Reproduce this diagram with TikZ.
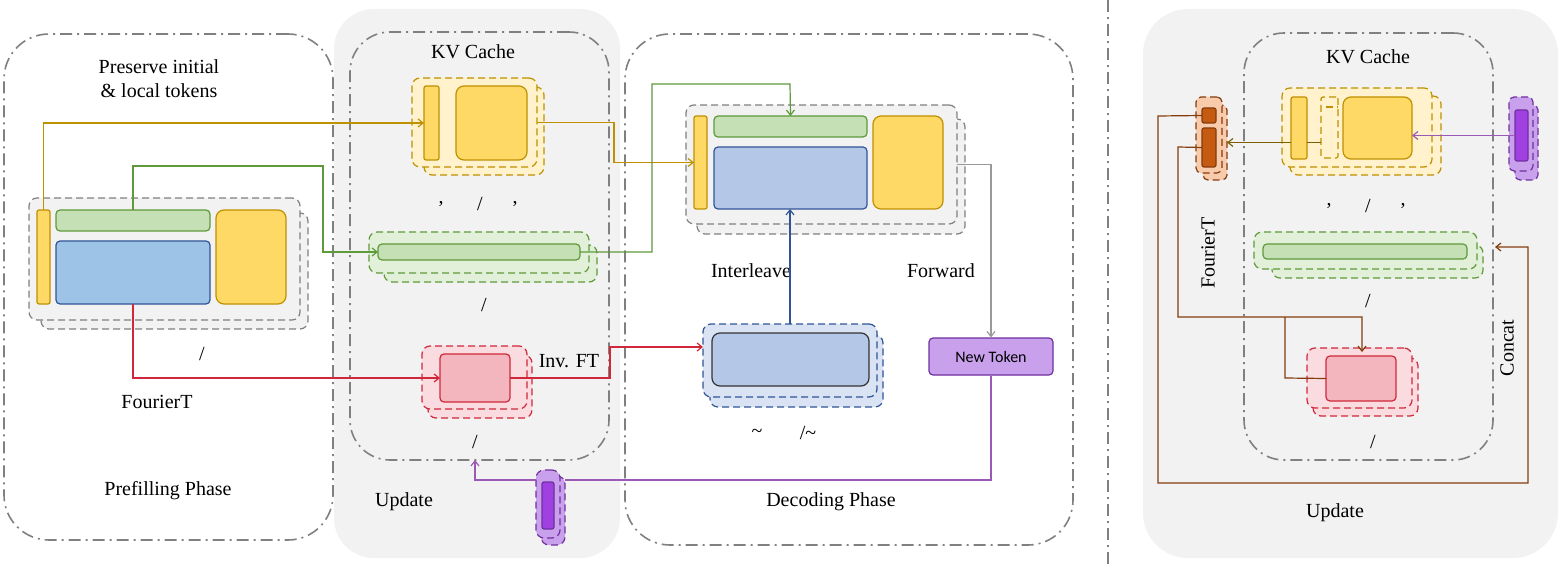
\documentclass[tikz,border=0pt]{standalone}
\usepackage{fontspec}
\setmainfont{Liberation Serif}
\newfontfamily\ntfont{Carlito}
\usetikzlibrary{calc,arrows.meta}
\definecolor{yF}{HTML}{FFD966}\definecolor{yB}{HTML}{BF9000}\definecolor{yG}{HTML}{FFF2CC}
\definecolor{gF}{HTML}{C5E0B4}\definecolor{gB}{HTML}{5E9A3A}\definecolor{gG}{HTML}{E2F0D9}
\definecolor{bF}{HTML}{9DC3E6}\definecolor{bB}{HTML}{2F5597}\definecolor{bD}{HTML}{B4C7E7}\definecolor{bG}{HTML}{DAE3F3}
\definecolor{rF}{HTML}{F4B6BE}\definecolor{rB}{HTML}{D0283A}\definecolor{rG}{HTML}{FADBDF}
\definecolor{pF}{HTML}{A040E0}\definecolor{pB}{HTML}{7030A0}\definecolor{pG}{HTML}{C9A0EC}\definecolor{pL}{HTML}{9B59B6}
\definecolor{oF}{HTML}{C55A11}\definecolor{oB}{HTML}{843C0C}\definecolor{oG}{HTML}{F8CBAD}
\definecolor{olv}{HTML}{7F6000}\definecolor{gry}{HTML}{808080}\definecolor{bgG}{HTML}{F2F2F2}
\newcommand\R[6]{\pgfmathsetmacro\rw{#5-#3}\pgfmathsetmacro\rh{#6-#4}%
  \node[#1,anchor=north west,minimum width=\rw pt,minimum height=\rh pt,inner sep=0pt,outer sep=0pt] (#2) at (#3,#4) {};}
\begin{document}
\begin{tikzpicture}[x=1pt,y=-1pt,
  dd/.style={draw=gry,line width=1.6pt,dash pattern=on 12pt off 5pt on 2pt off 5pt,rounded corners=#1},
  dd/.default=40pt,
  grp/.style 2 args={draw=#1,fill=#2,line width=1.2pt,dash pattern=on 7pt off 4pt,rounded corners=8pt,rectangle},
  blk/.style 2 args={draw=#1,fill=#2,line width=1.2pt,rounded corners=4pt,rectangle},
  ln/.style={line width=1.2pt,draw=#1,-{Straight Barb[length=5pt,width=8pt]}},
  pl/.style={line width=1.2pt,draw=#1},
  lab/.style={font=\fontsize{20}{22}\selectfont,inner sep=0pt},
  nt/.style={font=\ntfont\fontsize{16}{18}\selectfont}]
\useasboundingbox (0,0) rectangle (1561,564);
% backgrounds
\R{fill=bgG,rounded corners=40pt}{upbg}{334}{9}{620}{558}
\R{fill=bgG,rounded corners=45pt}{upbg2}{1143}{9}{1558}{558}
\R{dd=45pt}{prefill}{4}{34}{333}{540}
\R{dd=40pt}{kvin}{350}{32}{609}{460}
\R{dd=45pt}{decode}{625}{34}{1073}{545}
\R{dd=40pt}{kvin2}{1244}{33}{1493}{460}
\draw[gry,line width=1.6pt,dash pattern=on 12pt off 5pt on 2pt off 5pt] (1108,0) coordinate (dv1) -- (1108,564) coordinate (dv2);
% labels
\node[lab,align=center] (tpre) at (159,79) {Preserve initial\\[2pt]\& local tokens};
\node[lab] (tpf) at (168,491) {Prefilling Phase};
\node[lab] (tft) at (157,402) {FourierT};
\node[lab] (tsl1) at (202,354) {/};
\node[lab] (tkv) at (473,52) {KV Cache};
\node[lab] (tc1) at (441,204) {,};\node[lab] (ts2) at (480,204) {/};\node[lab] (tc2) at (515,204) {,};
\node[lab] (ts3) at (484,305) {/};
\node[lab] (ts4) at (475,442) {/};
\node[lab] (tinv) at (569,361) {Inv. FT};
\node[lab] (tup) at (404,502) {Update};
\node[lab] (tint) at (751,271) {Interleave};
\node[lab] (tfw) at (941,271) {Forward};
\node[lab] (tti1) at (757,433) {\~{}};\node[lab] (tti2) at (808,433) {/\~{}};
\node[lab] (tdp) at (831,502) {Decoding Phase};
\node[lab] (tkv2) at (1368,57) {KV Cache};
\node[lab] (tc3) at (1329,206) {,};\node[lab] (ts5) at (1368,206) {/};\node[lab] (tc4) at (1403,206) {,};
\node[lab] (ts6) at (1368,301) {/};
\node[lab] (ts7) at (1373,442) {/};
\node[lab,rotate=90] (tft2) at (1208,253) {FourierT};
\node[lab,rotate=90] (tcc) at (1507,348) {Concat};
\node[lab] (tup2) at (1335,513) {Update};
% left stack
\R{grp={gry}{bgG}}{lsB}{41}{213}{308}{329}
\R{grp={gry}{bgG}}{lsF}{29}{198}{300}{320}
\R{blk={yB}{yF},rounded corners=2pt}{lbar}{37}{210}{50}{304}
\R{blk={gB}{gF}}{lgreen}{56}{210}{210}{231}
\R{blk={bB}{bF}}{lblue}{56}{241}{210}{304}
\R{blk={yB}{yF},rounded corners=8pt}{lyel}{216}{210}{286}{304}
% KV yellow
\R{grp={yB}{yG}}{kyB}{424}{87}{544}{175}
\R{grp={yB}{yG}}{kyF}{412}{78}{537}{167}
\R{blk={yB}{yF},rounded corners=2pt}{kbar}{424}{86}{439}{160}
\R{blk={yB}{yF},rounded corners=8pt}{kblk}{456}{86}{527}{160}
% KV green
\R{grp={gB}{gG}}{kgB}{384}{245}{597}{282}
\R{grp={gB}{gG}}{kgF}{369}{232}{589}{273}
\R{blk={gB}{gF}}{kgbar}{378}{244}{580}{260}
% KV red
\R{grp={rB}{rG}}{krB}{428}{355}{532}{418}
\R{grp={rB}{rG}}{krF}{422}{346}{527}{409}
\R{blk={rB}{rF}}{kred}{440}{354}{510}{402}
% purple token
\R{grp={pB}{pG}}{ppB}{541}{476}{565}{545}
\R{grp={pB}{pG}}{ppF}{536}{470}{560}{538}
\R{blk={pB}{pF},rounded corners=2pt}{pbar}{542}{482}{554}{529}
% decode stack
\R{grp={gry}{bgG}}{dsB}{697}{119}{965}{234}
\R{grp={gry}{bgG}}{dsF}{686}{105}{957}{224}
\R{blk={yB}{yF},rounded corners=2pt}{dbar}{694}{116}{707}{209}
\R{blk={gB}{gF}}{dgreen}{714}{116}{867}{137}
\R{blk={bB}{bD}}{dblue}{714}{147}{867}{209}
\R{blk={yB}{yF},rounded corners=8pt}{dyel}{873}{116}{943}{209}
% decode blue group
\R{grp={bB}{bG}}{dbB}{710}{335}{883}{407}
\R{grp={bB}{bG}}{dbF}{703}{324}{877}{397}
\R{blk={black!80}{bD},rounded corners=8pt}{dbin}{712}{333}{869}{386}
% new token
\node[blk={pB}{pG},minimum width=124pt,minimum height=37pt,nt,inner sep=0pt] (newt) at (991,356.5) {New Token};
% right panel
\R{grp={yB}{yG}}{k2B}{1290}{96}{1441}{175}
\R{grp={yB}{yG}}{k2F}{1282}{88}{1432}{167}
\R{blk={yB}{yF},rounded corners=2pt}{k2bar}{1291}{97}{1307}{159}
\R{grp={yB}{yG},rounded corners=2pt}{k2sm}{1321}{97}{1338}{158}
\draw[yB,line width=1.2pt,dash pattern=on 7pt off 4pt] (k2sm.north west) ++(5,10) coordinate (smA) -- ++(12,0) coordinate (smB);
\R{blk={yB}{yF},rounded corners=8pt}{k2blk}{1343}{97}{1412}{159}
\R{grp={oB}{oG},rounded corners=5pt}{oB2}{1203}{105}{1227}{180}
\R{grp={oB}{oG},rounded corners=5pt}{oF2}{1196}{97}{1222}{173}
\R{blk={oB}{oF},rounded corners=2pt}{ob1}{1202}{108}{1216}{123}
\R{blk={oB}{oF},rounded corners=2pt}{ob2}{1202}{128}{1216}{167}
\R{grp={pB}{pG},rounded corners=5pt}{p2B}{1515}{105}{1538}{180}
\R{grp={pB}{pG},rounded corners=5pt}{p2F}{1509}{97}{1533}{171}
\R{blk={pB}{pF},rounded corners=2pt}{p2bar}{1515}{110}{1528}{161}
\R{grp={gB}{gG}}{g2B}{1272}{245}{1483}{278}
\R{grp={gB}{gG}}{g2F}{1254}{232}{1477}{269}
\R{blk={gB}{gF}}{g2bar}{1263}{244}{1467}{259}
\R{grp={rB}{rG}}{r2B}{1313}{358}{1418}{416}
\R{grp={rB}{rG}}{r2F}{1307}{348}{1412}{408}
\R{blk={rB}{rF}}{r2in}{1326}{356}{1396}{401}
% connectors left
\draw[ln=yB] (lbar.north) |- (kbar.west);
\draw[ln=yB] (kyF.east) -- (614,122.5) |- (dbar.west);
\draw[ln=gB] (lgreen.north) |- (323,166) |- (kgbar.west);
\draw[ln=gB] (kgbar.east) -- (652,252) |- (790,84) -- (dgreen.north);
\draw[ln=rB] (lblue.south) |- (kred.west);
\coordinate (rr) at (610,347);
\draw[ln=rB] (kred.east) -- (610,378) -- (rr) -- (rr -| dbF.west);
\draw[ln=bB] (dbF.north) -- (dbF.north |- dblue.south);
\draw[ln=gry!80] (dsF.east) -| (newt.north);
\coordinate (pp) at (565,480);
\coordinate (px) at (475,480);
\draw[pl=pL] (newt.south) |- (pp);
\draw[ln=pL] (ppF.west |- pp) -- (px) -- (px |- kvin.south);
% connectors right
\draw[ln=olv] (oB2.east -| k2bar.west) -- (oB2.east);
\draw[pl=olv] (k2bar.east |- oB2.east) -- (k2sm.west |- oB2.east);
\draw[ln=pL] (p2bar.west) -- (p2bar.west -| k2blk.east);
\coordinate (ca) at (1495,247);
\draw[ln=oB] (ob1.west) -- (1158,116) -- (1158,483) -- (1528,483) -- (1528,247) -- (ca);
\coordinate (rt) at (1362,352);
\draw[ln=oB] (ob2.west) -- (1178,147) -- (1178,317) -- (1362,317) -- (rt);
\draw[pl=oB] (1285,317) -- (1285,378) -- (r2in.west);
\end{tikzpicture}
\end{document}
